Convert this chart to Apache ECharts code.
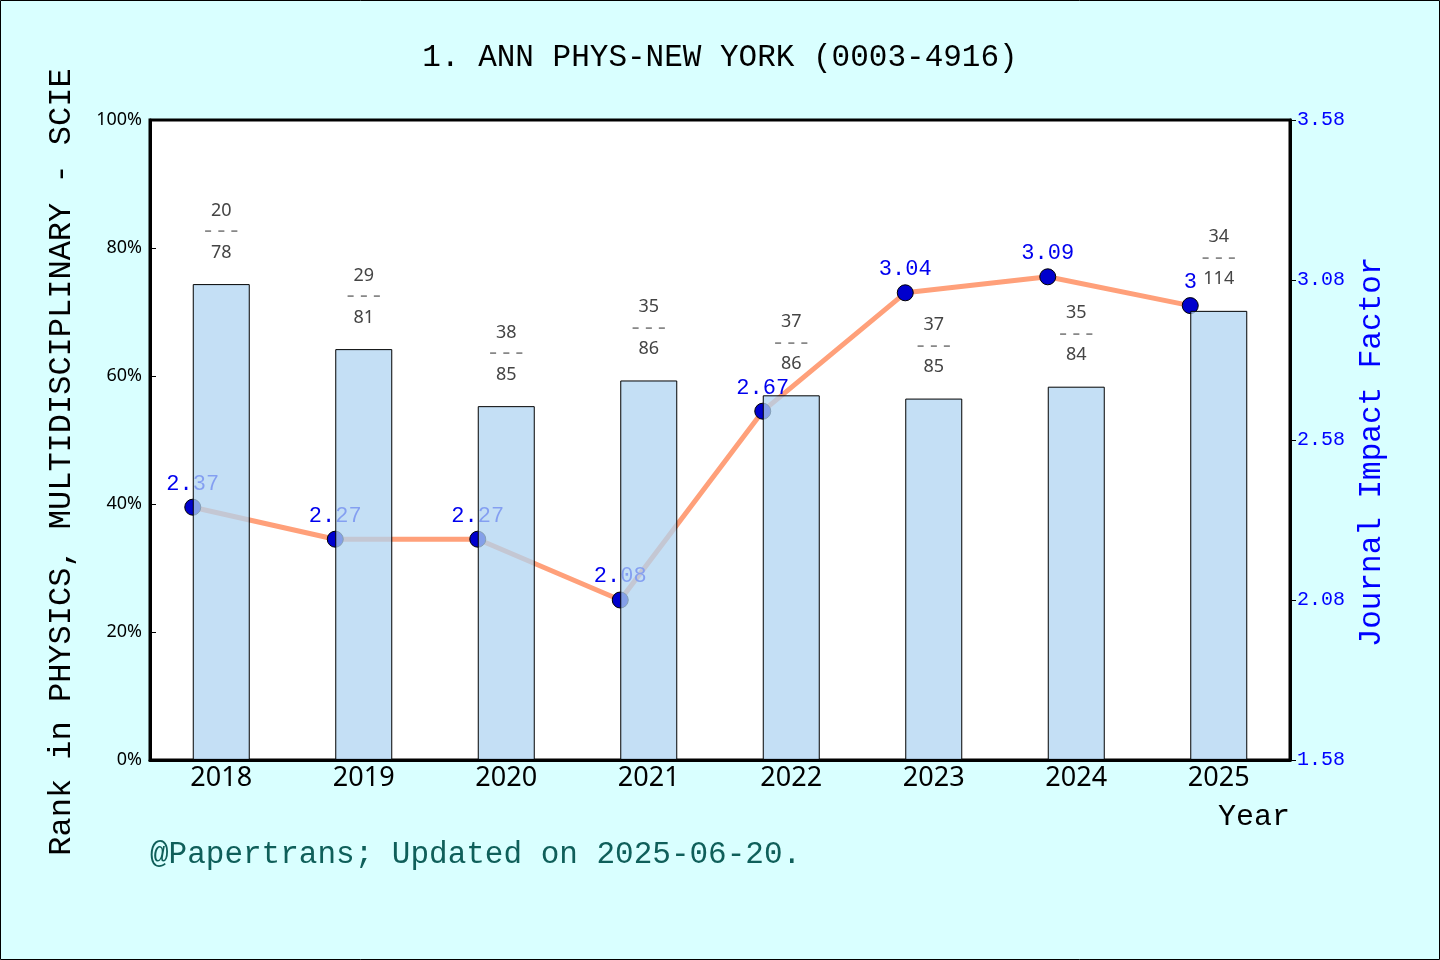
<!DOCTYPE html>
<html>
<head>
<meta charset="utf-8">
<script src="https://cdn.jsdelivr.net/npm/echarts@6/dist/echarts.min.js"></script>
<style>
  html, body { margin: 0; padding: 0; background: #d9ffff; }
  #chart { width: 1440px; height: 960px; }
</style>
</head>
<body>
<div id="chart"></div>
<script>
// values
var years = ['2018', '2019', '2020', '2021', '2022', '2023', '2024', '2025'];
var ranks = [20, 29, 38, 35, 37, 37, 35, 34];
var totals = [78, 81, 85, 86, 86, 85, 84, 114];
var impactFactors = [2.37, 2.27, 2.27, 2.08, 2.67, 3.04, 3.09, 3];
var rightTicks = [1.58, 2.08, 2.58, 3.08, 3.58];

var mono = '"Liberation Mono", "DejaVu Sans Mono", monospace';
var sans = '"Noto Sans", "DejaVu Sans", sans-serif';

// percentile of the rank inside the category
var percentData = ranks.map(function (r, i) {
    return +((1 - r / totals[i]) * 100).toFixed(2);
});
// line points sit at the left edge of each bar
var ifData = impactFactors.map(function (v, i) {
    return [i - 0.2, v];
});

var chart = echarts.init(document.getElementById('chart'));
var option = {
    backgroundColor: '#d9ffff',
    animation: false,
    title: {
        text: '1. ANN PHYS-NEW YORK (0003-4916)',
        left: 'center',
        top: 37,
        textStyle: { fontFamily: mono, fontSize: 31, fontWeight: 'normal', color: '#000' }
    },
    grid: {
        left: 150, right: 150, top: 120, bottom: 200,
        show: true, backgroundColor: '#fff', borderColor: '#000', borderWidth: 3
    },
    xAxis: [
        {
            type: 'category',
            data: years,
            boundaryGap: true,
            axisLine: { lineStyle: { color: '#000', width: 3 } },
            axisTick: { inside: true, length: 6, lineStyle: { color: '#000' } },
            axisLabel: { fontFamily: sans, fontSize: 27, color: '#000', margin: 5 }
        },
        {
            type: 'value',
            min: -0.5,
            max: 7.5,
            show: false
        }
    ],
    yAxis: [
        {
            type: 'value',
            min: 0,
            max: 100,
            interval: 20,
            position: 'left',
            splitLine: { show: false },
            axisLine: { show: true, onZero: false, lineStyle: { color: '#000', width: 3 } },
            axisTick: { show: true, inside: true, length: 6, lineStyle: { color: '#000' } },
            axisLabel: { fontFamily: sans, fontSize: 18, color: '#000', margin: 8, formatter: '{value}%' }
        },
        {
            type: 'value',
            min: 1.58,
            max: 3.58,
            position: 'right',
            splitLine: { show: false },
            axisLine: { show: true, onZero: false, lineStyle: { color: '#000', width: 3 } },
            axisTick: { show: true, length: 6, customValues: rightTicks, lineStyle: { color: '#000' } },
            axisLabel: {
                fontFamily: mono, fontSize: 20, color: '#0000ff', margin: 7,
                padding: [4, 0, 0, 0],
                customValues: rightTicks,
                formatter: function (v) { return v.toFixed(2); }
            }
        }
    ],
    graphic: [
        {
            type: 'rect', z: 100, silent: true,
            shape: { x: 0.5, y: 0.5, width: 1439, height: 959 },
            style: { fill: 'none', stroke: '#000', lineWidth: 1 }
        },
        {
            type: 'text', x: 62, y: 462, rotation: Math.PI / 2,
            style: {
                text: 'Rank in PHYSICS, MULTIDISCIPLINARY - SCIE',
                font: '32px ' + mono, fill: '#000', textAlign: 'center', textVerticalAlign: 'middle'
            }
        },
        {
            type: 'text', x: 1372, y: 452, rotation: Math.PI / 2,
            style: {
                text: 'Journal Impact Factor',
                font: '31px ' + mono, fill: '#0000ff', textAlign: 'center', textVerticalAlign: 'middle'
            }
        },
        {
            type: 'text', x: 1254, y: 817,
            style: {
                text: 'Year', font: '30px ' + mono, fill: '#000',
                textAlign: 'center', textVerticalAlign: 'middle'
            }
        },
        {
            type: 'text', x: 150, y: 855,
            style: {
                text: '@Papertrans; Updated on 2025-06-20.', font: '31px ' + mono, fill: '#0f5f5a',
                textAlign: 'left', textVerticalAlign: 'middle'
            }
        }
    ],
    series: [
        {
            name: 'Impact Factor',
            type: 'line',
            xAxisIndex: 1,
            yAxisIndex: 1,
            z: 2,
            data: ifData,
            symbol: 'circle',
            symbolSize: 16,
            lineStyle: { color: '#ffa07a', width: 5 },
            itemStyle: { color: '#0000cd', borderColor: '#000', borderWidth: 1 },
            label: {
                show: true,
                position: 'top',
                distance: 4,
                fontFamily: mono,
                fontSize: 22,
                color: '#0000ee',
                formatter: function (p) { return String(p.value[1]); }
            }
        },
        {
            name: 'Rank',
            type: 'bar',
            xAxisIndex: 0,
            yAxisIndex: 0,
            z: 3,
            barWidth: '40%',
            data: percentData,
            itemStyle: { color: 'rgba(176,212,242,0.75)', borderColor: '#000', borderWidth: 1 },
            label: {
                show: true,
                position: 'top',
                distance: 21,
                formatter: function (p) {
                    return '{n|' + ranks[p.dataIndex] + '}\n{d|---}\n{n|' + totals[p.dataIndex] + '}';
                },
                rich: {
                    n: { fontFamily: sans, fontSize: 18, color: '#444', lineHeight: 21 },
                    d: { fontFamily: mono, fontSize: 22, color: '#888', lineHeight: 21 }
                }
            }
        }
    ]
};
chart.setOption(option);
</script>
</body>
</html>
